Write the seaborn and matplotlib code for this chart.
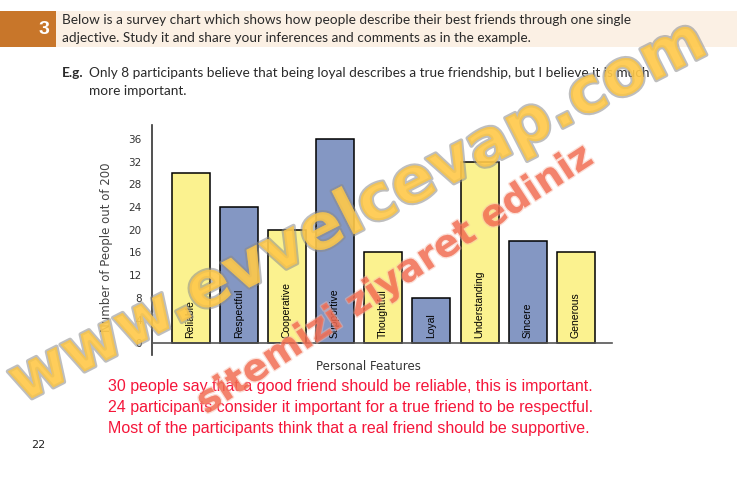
import matplotlib
matplotlib.use("Agg")
import matplotlib.pyplot as plt
import matplotlib.patheffects as pe
from matplotlib.patches import Rectangle
import seaborn as sns

# Survey data
features = ["Reliable", "Respectful", "Cooperative", "Supportive", "Thoughtful",
            "Loyal", "Understanding", "Sincere", "Generous"]
counts = [30, 24, 20, 36, 16, 8, 32, 18, 16]
y_ticks = [0, 4, 8, 12, 16, 20, 24, 28, 32, 36]

header_lines = ["Below is a survey chart which shows how people describe their best friends through one single",
                "adjective. Study it and share your inferences and comments as in the example."]
example_lines = ["Only 8 participants believe that being loyal describes a true friendship, but I believe it is much",
                 "more important."]
answer_lines = ["30 people say that a good friend should be reliable, this is important.",
                "24 participants consider it important for a true friend to be respectful.",
                "Most of the participants think that a real friend should be supportive."]

yellow = "#FBF28F"
blue = "#8497C3"
palette = [yellow if i % 2 == 0 else blue for i in range(len(features))]

sns.set_style("white")
plt.rcParams['font.family'] = ['DejaVu Sans']

W, H = 737, 479
fig = plt.figure(figsize=(W / 100, H / 100), dpi=100)
fig.patch.set_facecolor("white")

def fx(px):
    return px / W

def fy(py):
    return 1 - py / H

# chart area
ax = fig.add_axes([fx(152), fy(355), fx(612) - fx(152), fy(125) - fy(355)])
sns.barplot(x=features, y=counts, hue=features, palette=palette, legend=False,
            width=0.79, edgecolor="black", linewidth=1.1, saturation=1, ax=ax)
ax.set_xlim(-0.8, 8.75)
ax.set_ylim(-2.12, 38.5)
ax.set_yticks(y_ticks)
ax.set_xticks([])
ax.tick_params(axis="y", direction="inout", length=9, width=1, color="#333333",
               labelsize=7.5, labelcolor="#333333", pad=3)
for s in ["top", "right"]:
    ax.spines[s].set_visible(False)
ax.spines["left"].set_color("#333333")
ax.spines["left"].set_linewidth(1.2)
ax.spines["bottom"].set_position(("data", 0))
ax.spines["bottom"].set_color("#555555")
ax.spines["bottom"].set_linewidth(1.2)
ax.set_facecolor("none")

for i, name in enumerate(features):
    ax.text(i, 0.8, name, rotation=90, ha="center", va="bottom",
            fontsize=7.5, family=["Liberation Sans", "DejaVu Sans"], color="black")

ax.set_ylabel("Number of People out of 200", fontsize=8.5, color="#444444")
ax.yaxis.set_label_coords(-0.085, 0.47)
fig.text(fx(368), fy(366), "Personal Features", ha="center", va="center",
         fontsize=8.5, color="#333333")

# header band
fig.patches.append(Rectangle((0, fy(47)), fx(56), fy(11) - fy(47), transform=fig.transFigure,
                             facecolor="#C8762A", edgecolor="none", zorder=0))
fig.patches.append(Rectangle((fx(56), fy(47)), 1 - fx(56), fy(11) - fy(47), transform=fig.transFigure,
                             facecolor="#FBF0E4", edgecolor="none", zorder=0))
fig.text(fx(44), fy(30), "3", ha="center", va="center", fontsize=14, fontweight="bold",
         color="white", family=["Liberation Sans", "DejaVu Sans"])

page_font = ["Lato", "DejaVu Sans"]
fig.text(fx(62), fy(20), header_lines[0], ha="left", va="center", fontsize=9.8,
         color="#2a2a2a", family=page_font)
fig.text(fx(62), fy(38), header_lines[1], ha="left", va="center", fontsize=9.8,
         color="#2a2a2a", family=page_font)
fig.text(fx(62), fy(73), "E.g.", ha="left", va="center", fontsize=9.8, fontweight="bold",
         color="#2a2a2a", family=page_font)
fig.text(fx(89), fy(73), example_lines[0], ha="left", va="center", fontsize=9.8,
         color="#2a2a2a", family=page_font)
fig.text(fx(89), fy(91), example_lines[1], ha="left", va="center", fontsize=9.8,
         color="#2a2a2a", family=page_font)

# answer in red
for k, line in enumerate(answer_lines):
    fig.text(fx(108), fy(387 + k * 20.5), line, ha="left", va="center", fontsize=11.5,
             color="#F5163A", family=["Liberation Sans Narrow", "Liberation Sans"])

fig.text(fx(38), fy(445), "22", ha="center", va="center", fontsize=8, color="#222222")

# site watermark (translucent)
fig.text(fx(358), fy(212), "www.evvelcevap.com", ha="center", va="center", rotation=27,
         fontsize=46, fontweight="bold", color="#FFC94A", alpha=0.55, zorder=5,
         path_effects=[pe.withStroke(linewidth=3, foreground="#8a8a8a"), pe.Normal()])
fig.text(fx(395), fy(280), "sitemizi ziyaret ediniz", ha="center", va="center", rotation=33,
         fontsize=27, fontweight="bold", color="#F26B50", alpha=0.45, zorder=5,
         path_effects=[pe.withStroke(linewidth=2, foreground="#f7b8a8"), pe.Normal()])

fig.savefig("out.png", dpi=100)
